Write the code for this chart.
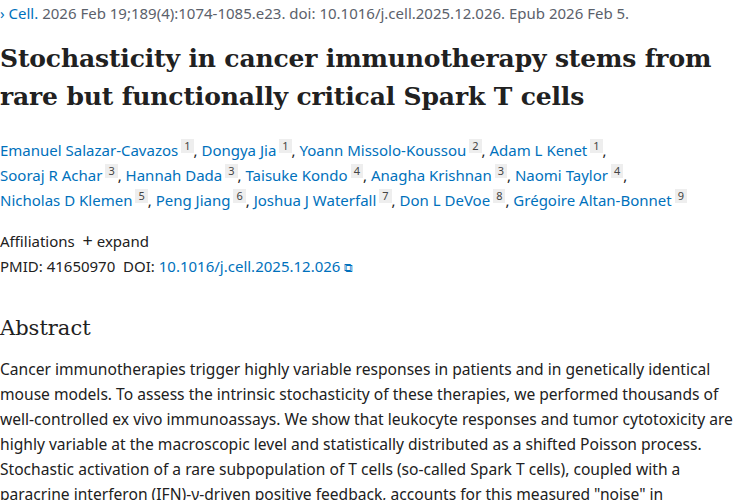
<!DOCTYPE html>
<html><head><meta charset="utf-8">
<script src="https://cdn.jsdelivr.net/npm/chart.js@4"></script>
<style>
body{margin:0;width:750px;height:500px;overflow:hidden;background:#fff;font-family:"Noto Sans","Open Sans",sans-serif;color:#212121}
.wrap{position:absolute;left:-2px;top:0;width:745px}
a{color:#0071bc;text-decoration:none}
.cite{position:absolute;top:3px;left:2px;font-size:15px;color:#5b616b}
h1{position:absolute;top:40px;left:2px;margin:0;font-family:"DejaVu Serif",serif;font-weight:bold;font-size:25px;line-height:38px;color:#212121;letter-spacing:-0.15px}
.authors{position:absolute;top:138px;left:2px;font-size:15px;line-height:25px}
sup{display:inline-block;background:#eee;color:#444;font-size:11px;padding:0 3px;line-height:14px;vertical-align:6px;margin-left:3px}
.aff{position:absolute;top:228px;left:2px;font-size:15px}
.pmid{position:absolute;top:256px;left:2px;font-size:15px}
h2{position:absolute;top:316px;left:2px;margin:0;font-family:"DejaVu Serif",serif;font-size:21px;font-weight:normal}
.abs{position:absolute;top:357px;left:2px;width:745px;font-size:15.6px;line-height:25px}
</style></head><body>
<div class="wrap">
<div class="cite"><span style="color:#0071bc">&#x203A; Cell.</span> 2026 Feb 19;189(4):1074-1085.e23. doi: 10.1016/j.cell.2025.12.026. Epub 2026 Feb 5.</div>
<h1>Stochasticity in cancer immunotherapy stems from<br>rare but functionally critical Spark T cells</h1>
<div class="authors">
<a>Emanuel Salazar-Cavazos</a><sup>1</sup>, <a>Dongya Jia</a><sup>1</sup>, <a>Yoann Missolo-Koussou</a><sup>2</sup>, <a>Adam L Kenet</a><sup>1</sup>,<br>
<a>Sooraj R Achar</a><sup>3</sup>, <a>Hannah Dada</a><sup>3</sup>, <a>Taisuke Kondo</a><sup>4</sup>, <a>Anagha Krishnan</a><sup>3</sup>, <a>Naomi Taylor</a><sup>4</sup>,<br>
<a>Nicholas D Klemen</a><sup>5</sup>, <a>Peng Jiang</a><sup>6</sup>, <a>Joshua J Waterfall</a><sup>7</sup>, <a>Don L DeVoe</a><sup>8</sup>, <a>Grégoire Altan-Bonnet</a><sup>9</sup>
</div>
<div class="aff">Affiliations &nbsp;<b style="font-weight:normal;font-size:18px">+</b> expand</div>
<div class="pmid">PMID: 41650970 &nbsp;DOI: <a>10.1016/j.cell.2025.12.026</a> <span style="color:#0071bc;font-size:12px">&#x29C9;</span></div>
<h2>Abstract</h2>
<div class="abs">Cancer immunotherapies trigger highly variable responses in patients and in genetically identical mouse models. To assess the intrinsic stochasticity of these therapies, we performed thousands of well-controlled ex vivo immunoassays. We show that leukocyte responses and tumor cytotoxicity are highly variable at the macroscopic level and statistically distributed as a shifted Poisson process. Stochastic activation of a rare subpopulation of T cells (so-called Spark T cells), coupled with a paracrine interferon (IFN)-γ-driven positive feedback, accounts for this measured "noise" in</div>
</div>
</body></html>
